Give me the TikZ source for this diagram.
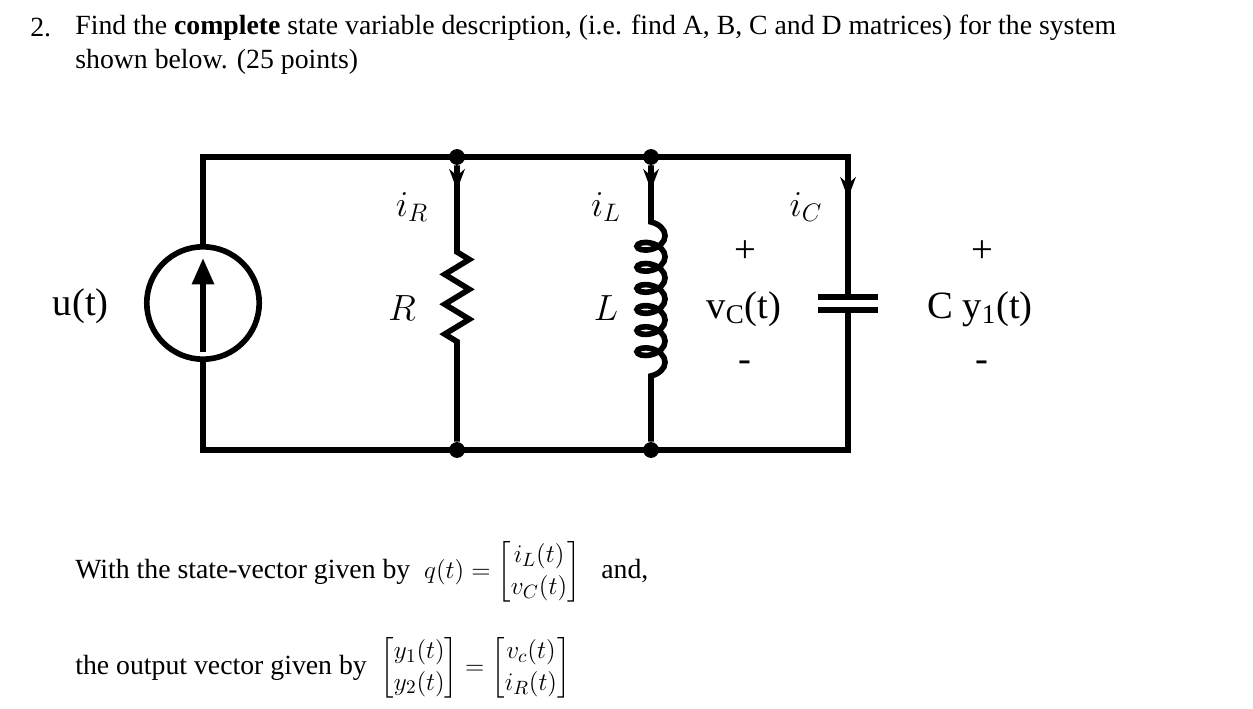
\documentclass[tikz,border=0pt]{standalone}
\usepackage{fontspec}
\usepackage{amsmath}
\setmainfont{Liberation Serif}
\usetikzlibrary{decorations.pathmorphing,arrows.meta}
\tikzset{
  wire/.style={line width=3.2pt, line join=miter},
  junction/.style={circle, fill, inner sep=0pt, minimum size=9pt},
  flow/.style={-{Stealth[length=12pt,width=9pt]}, line width=1.2pt},
  txt/.style={anchor=west, inner sep=0pt, font=\fontsize{15.8}{18}\selectfont},
  lbl/.style={font=\fontsize{22}{24}\selectfont}
}
\begin{document}
\begin{tikzpicture}[x=0.02cm,y=-0.02cm]
    \useasboundingbox (0,0) rectangle (1253,709);
    % === Question text ===
    \node[txt] (num) at (30,28) {2.};
    \node[txt] (line1) at (75,28) {Find the \textbf{complete} state variable description, (i.e. find A, B, C and D matrices) for the system};
    \node[txt] (line2) at (75,62) {shown below. (25 points)};

    % === Wires ===
    \coordinate (tl) at (203,157);
    \coordinate (tr) at (848,157);
    \coordinate (bl) at (203,450);
    \coordinate (br) at (848,450);
    \draw[wire] (848,297) -- (tr) -- (tl) -- (bl) -- (br) -- (848,310);

    % === Current source ===
    \node[circle, draw, line width=3.2pt, fill=white, minimum size=64pt] (src) at (203,303) {};
    \draw[line width=3.2pt, -{Triangle[length=15pt,width=12pt]}] (203,352) -- (203,258);
    \node[lbl, anchor=east] (u) at (115,306) {u(t)};

    % === Resistor branch ===
    \node[junction] (jrt) at (457,157) {};
    \node[junction] (jrb) at (457,450) {};
    \draw[wire] (jrt) -- (457,252)
        decorate[decoration={zigzag, segment length=17pt, amplitude=7pt}] {-- (457,356)}
        -- (jrb);
    \node[lbl] (R) at (402,308) {$R$};
    \node[lbl] (iR) at (412,207) {$i_R$};

    % === Inductor branch ===
    \node[junction] (jlt) at (651,157) {};
    \node[junction] (jlb) at (651,450) {};
    \draw[wire] (jlt) -- (651,222)
        decorate[decoration={coil, aspect=0.6, segment length=12pt, amplitude=8pt}] {-- (651,388)}
        -- (jlb);
    \node[lbl] (L) at (606,308) {$L$};
    \node[lbl] (iL) at (606,207) {$i_L$};

    % === Capacitor ===
    \draw[line width=3.4pt] (818,297) -- (878,297);
    \draw[line width=3.4pt] (818,310) -- (878,310);
    \node[lbl] (iC) at (806,207) {$i_C$};

    % current arrows
    \draw[flow] (457,162) -- (457,190);
    \draw[flow] (651,162) -- (651,190);
    \draw[flow] (848,162) -- (848,198);

    % === Voltage labels ===
    \node[lbl] (pc) at (745,252) {+};
    \node[lbl] (vc) at (744,309) {v\textsubscript{C}(t)};
    \node[lbl] (mc) at (745,366) {-};
    \node[lbl] (py) at (982,252) {+};
    \node[lbl] (cy) at (980,309) {C y\textsubscript{1}(t)};
    \node[lbl] (my) at (982,366) {-};

    % === State and output vectors ===
    \node[txt] (state) at (75,572) {With the state-vector given by \ $q(t)=\begin{bmatrix} i_L(t)\\ v_C(t)\end{bmatrix}$ \ \ and,};
    \node[txt] (out) at (75,668) {the output vector given by \ $\begin{bmatrix} y_1(t)\\ y_2(t)\end{bmatrix}=\begin{bmatrix} v_c(t)\\ i_R(t)\end{bmatrix}$};
\end{tikzpicture}
\end{document}
